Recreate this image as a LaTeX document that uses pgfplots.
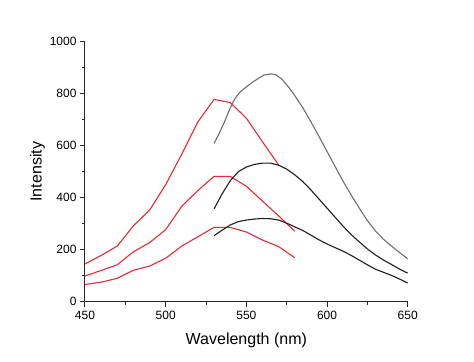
\documentclass[border=0pt]{standalone}
\usepackage{fontspec}
\setmainfont{Liberation Sans}
\usepackage{pgfplots}
\pgfplotsset{compat=1.18}
\definecolor{redc}{RGB}{232,40,52}
\definecolor{grayc}{RGB}{110,110,110}
\definecolor{blackc}{RGB}{30,30,30}
\definecolor{axc}{RGB}{40,40,40}
\begin{document}
\begin{tikzpicture}[x=1bp,y=1bp]
\path[use as bounding box] (-85bp,-60.3bp) rectangle (389bp,301.7bp);
\begin{axis}[
  at={(0,0)}, anchor=south west,
  scale only axis, width=322.7bp, height=260bp,
  xmin=450, xmax=650, ymin=0, ymax=1000,
  axis x line*=bottom, axis y line*=left,
  axis line style={axc, line width=1bp, -},
  xtick={450,500,...,650}, ytick={0,200,...,1000},
  minor xtick={475,525,...,625}, minor ytick={100,300,...,900},
  tick align=outside,
  major tick length=5bp, minor tick length=3bp,
  tick style={axc, line width=1bp},
  ticklabel style={font=\fontsize{12bp}{14bp}\selectfont, text=black},
  xticklabel style={yshift=-1bp},
  /pgf/number format/assume math mode=true,
  /pgf/number format/1000 sep={},
  xlabel={Wavelength (nm)}, ylabel={Intensity},
  label style={font=\fontsize{16bp}{18bp}\selectfont},
  xlabel style={yshift=-6bp},
  ylabel style={yshift=-2bp},
  clip=false,
]
\addplot[redc, line width=1.1bp] coordinates {
(450,145) (460,178) (470,214) (480,292) (490,352) (500,450) (510,568) (520,692) (530,778) (540,766) (550,706) (560,615) (570,526)};
\addplot[redc, line width=1.1bp] coordinates {
(450,99) (460,120) (470,142) (480,192) (490,227) (500,277) (510,367) (520,428) (530,482) (540,482) (550,444) (560,387) (570,330) (580,271)};
\addplot[redc, line width=1.1bp] coordinates {
(450,66) (460,75) (470,90) (480,121) (490,137) (500,167) (510,214) (520,250) (530,286) (540,286) (550,268) (560,237) (570,212) (580,169)};
\addplot[grayc, line width=1.1bp] coordinates {
(530,609) (533,645) (536,685) (540,745) (543,782) (546,806) (550,826) (554,845) (558,861) (561,872) (565,876) (568,874) (572,856) (576,827) (580,793) (585,746) (590,692) (595,636) (600,578) (605,520) (610,463) (615,410) (620,360) (625,312) (630,272) (635,240) (640,214) (645,189) (650,165)};
\addplot[blackc, line width=1.1bp] coordinates {
(530,357) (535,415) (540,465) (545,500) (550,518) (555,528) (560,533) (565,533) (570,525) (575,510) (580,488) (585,462) (590,430) (595,395) (600,360) (605,325) (610,290) (615,258) (620,230) (625,203) (630,180) (635,160) (640,143) (645,125) (650,110)};
\addplot[blackc, line width=1.1bp] coordinates {
(530,254) (535,275) (540,295) (545,308) (550,314) (555,318) (560,320) (565,319) (570,314) (575,302) (580,288) (585,274) (590,256) (595,238) (600,222) (605,208) (610,194) (615,178) (620,160) (625,142) (630,125) (635,113) (640,101) (645,87) (650,72)};
\end{axis}
\end{tikzpicture}
\end{document}
